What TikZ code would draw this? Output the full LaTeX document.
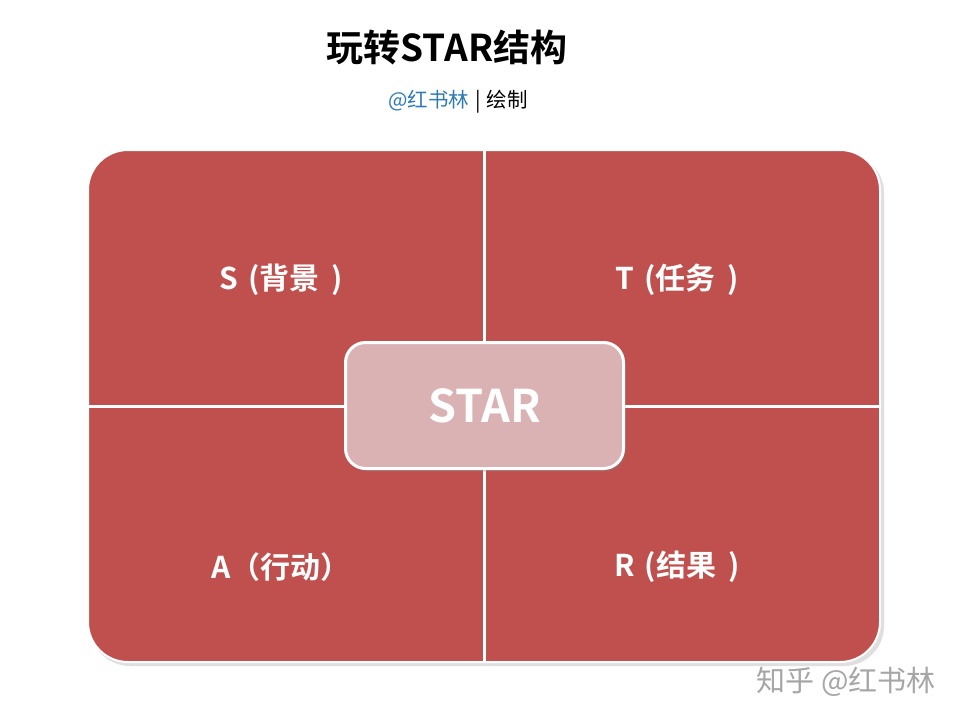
\documentclass[tikz,border=0pt]{standalone}
\usepackage{fontspec}
\setmainfont{Noto Sans CJK SC}
\newfontfamily\cjkbold{Noto Sans CJK SC Bold}
\usetikzlibrary{shadows}
\definecolor{starred}{HTML}{C0504D}
\definecolor{starpink}{HTML}{DBB2B3}
\definecolor{linkblue}{HTML}{2E7BB4}
\begin{document}
\begin{tikzpicture}[x=1pt,y=-1pt,
  quadlabel/.style={text=white,font=\cjkbold\fontsize{30}{34}\selectfont,inner sep=0pt},
  divider/.style={white,line width=3pt}]
\useasboundingbox (0,0) rectangle (960,720);
\fill[white] (0,0) rectangle (960,720);
% title
\node[font=\cjkbold\fontsize{37}{42}\selectfont,inner sep=0pt] (title) at (447,48) {玩转STAR结构};
\node[font=\fontsize{20.5}{24}\selectfont,inner sep=0pt] (sub) at (458,102) {\textcolor{linkblue}{@红书林}\hspace{6pt}|\hspace{6pt}绘制};
% outer board
\fill[gray!25,rounded corners=40pt] (90,153) rectangle (884,666);
\node[draw=white,line width=2pt,fill=starred,rounded corners=40pt,minimum width=792pt,minimum height=512pt,inner sep=0pt] (board) at (484,406) {};
\draw[divider] (board.north) -- (board.south);
\draw[divider] (board.west) -- (board.east);
% labels
\node[quadlabel] (s) at (281,280) {S\hspace{10pt}(背景\hspace{12pt})};
\node[quadlabel] (t) at (677,280) {T\hspace{10pt}(任务\hspace{12pt})};
\node[quadlabel] (a) at (281,567) {A（行动）};
\node[quadlabel] (r) at (677,567) {R\hspace{10pt}(结果\hspace{12pt})};
% centre
\node[draw=white,line width=3pt,fill=starpink,rounded corners=20pt,minimum width=278pt,minimum height=126pt,
  text=white,font=\cjkbold\fontsize{45}{52}\selectfont,
  drop shadow={shadow xshift=2pt,shadow yshift=-3pt,opacity=0.35}] (star) at (484.5,405.5) {STAR};
% watermark
\node[text=gray!70,font=\fontsize{29}{34}\selectfont,inner sep=0pt] (wm) at (846,682) {知乎 @红书林};
\end{tikzpicture}
\end{document}
